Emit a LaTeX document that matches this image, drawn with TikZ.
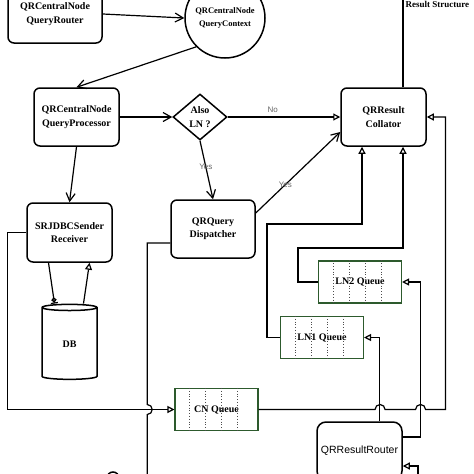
\documentclass[tikz,border=0pt]{standalone}
\usepackage{fontspec}
\setmainfont{Liberation Serif}
\newfontfamily\labelfont{Liberation Sans}
\usetikzlibrary{shapes.geometric,arrows.meta}
\definecolor{qgreen}{RGB}{45,90,45}
\begin{document}
\begin{tikzpicture}[x=1pt,y=-1pt,font=\bfseries\fontsize{10}{13.5}\selectfont,
    box/.style={draw, line width=1.5pt, rounded corners=6pt, align=center,
      minimum width=85pt, minimum height=58pt, inner sep=0pt},
    queue/.style={draw=qgreen, line width=1.1pt, minimum width=83pt, minimum height=42pt, inner sep=0pt},
    link/.style={line width=1.2pt},
    barb/.style={link, -{Straight Barb[length=8pt,width=9pt]}},
    tri/.style={link, -{Triangle[open,length=7pt,width=7pt]}},
    lbl/.style={font=\labelfont\fontsize{8}{9}\selectfont, text=black!60}]
\useasboundingbox (0,0) rectangle (474,474);
\clip (0,0) rectangle (474,474);

% components
\node[box, minimum width=94pt] (router) at (55,14) {QRCentralNode\\QueryRouter};
\node[draw, circle, line width=1.5pt, minimum size=80pt, align=center,
  font=\bfseries\fontsize{8.5}{13}\selectfont] (context) at (225,18) {QRCentralNode\\QueryContext};
\node[box] (processor) at (76.5,117) {QRCentralNode\\QueryProcessor};
\node[draw, diamond, aspect=1.2, line width=1.5pt, minimum width=54pt, minimum height=46pt,
  inner sep=0pt, align=center] (also) at (200,117) {Also\\LN ?};
\node[box] (collator) at (383.5,117) {QRResult\\Collator};
\node[box, minimum width=84pt] (dispatcher) at (213,229) {QRQuery\\Dispatcher};
\node[box, minimum height=59pt] (sender) at (69.5,232.5) {SRJDBCSender\\Receiver};
\node[draw, cylinder, shape border rotate=90, aspect=0.3, line width=1.5pt,
  minimum width=55pt, minimum height=75pt] (db) at (69.5,344.5) {DB};
\node[box, rounded corners=9pt, font=\labelfont\fontsize{10.5}{12}\selectfont] (resrouter) at (359.5,451) {QRResultRouter};

% queues
\node[queue] (cnq) at (216.5,409.5) {CN Queue};
\node[queue] (lnone) at (322,337.5) {LN1 Queue};
\node[queue] (lntwo) at (360,282) {LN2 Queue};
\foreach \q in {cnq,lnone,lntwo}
  \foreach \dx in {15,31,47,63}
    \draw[dotted, line width=0.8pt, black!70] ([xshift=\dx]\q.north west) -- ([xshift=\dx]\q.south west);

% main flow
\draw[barb] (router.east) -- (context.west);
\draw[barb] (context.south west) -- (processor.north);
\draw[barb] (processor.east) -- (also.west);
\draw[tri] (also.east) -- node[lbl, above, pos=0.4] {No} (collator.west);
\draw[barb] (also.south) -- node[lbl, pos=0.45] {Yes} (dispatcher.north);
\draw[barb] ([yshift=16]dispatcher.east) -- node[lbl, pos=0.35] {Yes} ([yshift=-15]collator.west);
\draw[barb] (processor.south) -- (sender.north);
\draw[link, -{Circle[open,length=5pt] Bar[width=7pt]}] ([xshift=-21]sender.south) -- ([xshift=-15]db.north);
\draw[tri] ([xshift=14]db.north) -- ([xshift=20]sender.south);
\draw[link] ([xshift=19.5]collator.north) -- ++(0,-100)
  node[pos=0.83, right, inner sep=2pt, font=\bfseries\fontsize{9}{10}\selectfont] {Result Structure};

% queue links
\draw[tri] (sender.west) -- ++(-19,0) |- (cnq.west);
\draw[link] ([yshift=-14]dispatcher.west) -- ++(-23,0) -- ++(0,161.5) arc(90:-90:5pt) -- ++(0,70);
\draw[tri] (cnq.east) -- ++(116.5,0) arc(180:0:5pt) -- ++(30.5,0) arc(180:0:5pt) -- ++(20,0) |- (collator.east);
\draw[tri] (lntwo.west) -- ++(-20,0) -- ++(0,-34) -| ([xshift=19.5]collator.south);
\draw[tri] (lnone.west) -- ++(-13,0) -- ++(0,-113.5) -| ([xshift=-21.5]collator.south);
\draw[tri] ([xshift=20]resrouter.north) |- (lnone.east);
\draw[tri] ([yshift=14]resrouter.east) -- ++(18,0) |- (lntwo.east);
\coordinate (feed) at (418,480);
\draw[tri] (feed) |- ([yshift=-15]resrouter.east);
\draw[line width=1.5pt] (113,478) circle (6pt);
\end{tikzpicture}
\end{document}
